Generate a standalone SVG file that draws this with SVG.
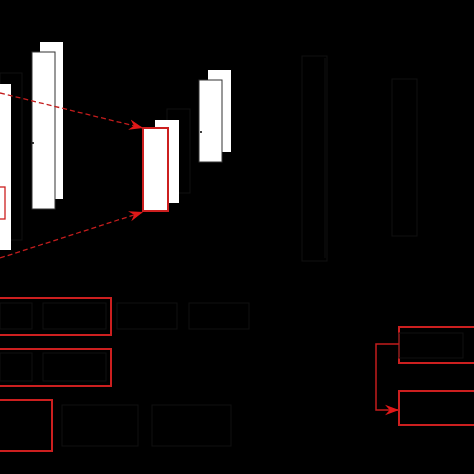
<svg xmlns="http://www.w3.org/2000/svg" width="474" height="474" viewBox="0 0 474 474">
<defs>
<style>
.w{fill:#fff;stroke:#333;stroke-width:1}
.wb{fill:#fff;stroke:none}
.r{fill:none;stroke:#cc1f1f;stroke-width:2}
.rf{fill:#fff;stroke:#cc1f1f;stroke-width:2}
.f{fill:none;stroke:#101010;stroke-width:1}
.c{fill:none;stroke:#c41d1d;stroke-width:1.3}
</style>
<marker id="ah2" viewBox="0 0 12 10" refX="12" refY="5" markerWidth="14" markerHeight="12" orient="auto" markerUnits="userSpaceOnUse">
<path d="M0,0.5 L12,5 L0,9.5 L4,5 Z" fill="#e01818"/>
</marker>
</defs>
<rect width="474" height="474" fill="#000"/>
<g id="stack1">
<rect class="f" x="0" y="73" width="22" height="167"/>
<rect class="wb" x="0" y="84" width="11" height="166"/>
<rect class="r" x="-2" y="187" width="7" height="32" style="stroke-width:1.3"/>
</g>
<g id="stack2">
<rect class="wb" x="40" y="42" width="23" height="157"/>
<rect class="w" x="32" y="52" width="23" height="157"/>
<circle cx="33" cy="143" r="1" fill="#000"/>
</g>
<g id="stack3">
<rect class="f" x="167" y="109" width="23" height="84"/>
<rect class="wb" x="155" y="120" width="24" height="83"/>
<rect class="rf" x="143" y="128" width="25" height="83"/>
</g>
<g id="stack4">
<rect class="wb" x="208" y="70" width="23" height="82"/>
<rect class="w" x="199" y="80" width="23" height="82"/>
<circle cx="201" cy="132" r="1" fill="#000"/>
</g>
<g id="col1">
<rect class="f" x="302" y="56" width="25" height="205"/>
<line class="f" x1="325" y1="58" x2="325" y2="258"/>
</g>
<g id="col2">
<rect class="f" x="392" y="79" width="25" height="157"/>
</g>
<g id="row1">
<rect class="r" x="-2" y="298" width="113" height="37"/>
<rect class="f" x="0" y="303" width="32" height="26"/>
<rect class="f" x="43" y="303" width="63" height="26"/>
<rect class="f" x="117" y="303" width="60" height="26"/>
<rect class="f" x="189" y="303" width="60" height="26"/>
</g>
<g id="row2">
<rect class="r" x="-2" y="349" width="113" height="37"/>
<rect class="f" x="0" y="353" width="32" height="28"/>
<rect class="f" x="43" y="353" width="63" height="28"/>
</g>
<g id="row3">
<rect class="r" x="-2" y="400" width="54" height="51"/>
<rect class="f" x="62" y="405" width="76" height="41"/>
<rect class="f" x="152" y="405" width="79" height="41"/>
</g>
<g id="right1">
<rect class="r" x="399" y="327" width="80" height="36"/>
<rect class="f" x="399" y="333" width="64" height="25"/>
</g>
<g id="right2">
<rect class="r" x="399" y="391" width="80" height="34"/>
</g>
<g id="connectors">
<line class="c" x1="0" y1="93" x2="143" y2="128" stroke-dasharray="5,3" marker-end="url(#ah2)"/>
<line class="c" x1="0" y1="258" x2="143" y2="212" stroke-dasharray="5,3" marker-end="url(#ah2)"/>
<polyline class="c" points="399,344 376,344 376,410 399,410" marker-end="url(#ah2)" style="stroke-width:1.5"/>
</g>
</svg>
